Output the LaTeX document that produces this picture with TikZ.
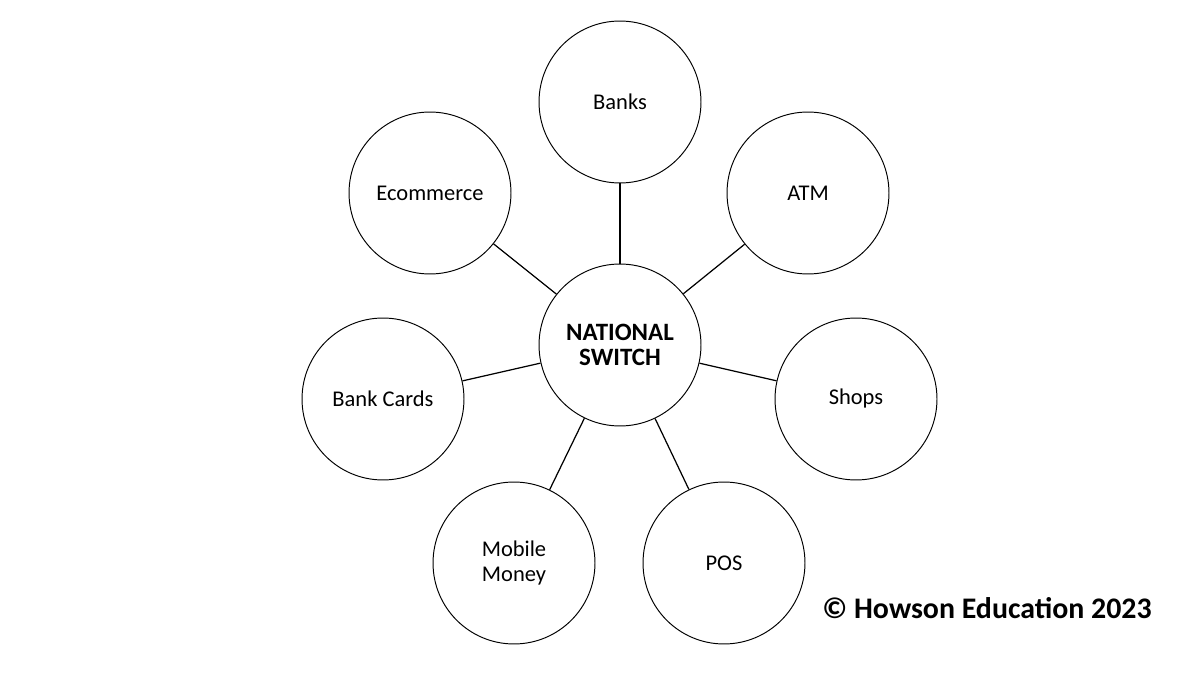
\documentclass[tikz,border=0pt]{standalone}
\usepackage{fontspec}
\setmainfont{Carlito}
\usepackage{tikz}
\tikzstyle{party} = [draw=black, line width=0.55pt, circle, minimum size=3.24cm, inner sep=0pt, align=center, font={\fontsize{12.8}{14.7}\selectfont}]
\tikzstyle{hub} = [party, font={\fontsize{14.2}{14.6}\selectfont\bfseries}]
\tikzstyle{link} = [draw=black, line width=0.7pt]

\begin{document}
\begin{tikzpicture}[x=0.02cm,y=-0.02cm]
    \useasboundingbox (0,0) rectangle (1200,675);
    \node[hub](sw) at (620,345){NATIONAL\\SWITCH};
    \node[party](banks) at (620,102){Banks};
    \node[party](atm) at (808,193){ATM};
    \node[party](shops) at (856,399){Shops};
    \node[party](pos) at (724,563){POS};
    \node[party](mobile) at (514,563){Mobile\\Money};
    \node[party](cards) at (383,399){Bank Cards};
    \node[party](ecom) at (430,193){Ecommerce};
    \foreach \n in {banks,atm,shops,pos,mobile,cards,ecom}
      \draw[link](sw)--(\n);
    \node[anchor=base east, inner sep=0pt, font={\fontsize{17}{20}\selectfont\bfseries}](copy) at (1152,618){© Howson Education 2023};
  \end{tikzpicture}
\end{document}
